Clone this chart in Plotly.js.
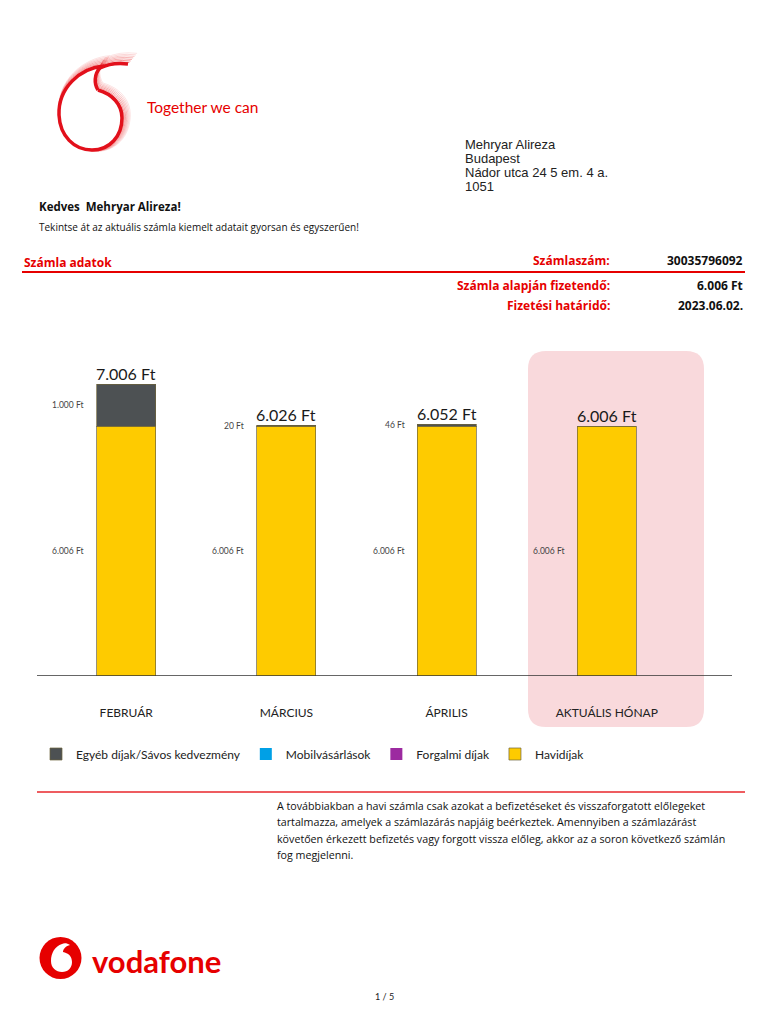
<!DOCTYPE html>
<html>
<head>
<meta charset="utf-8">
<script src="https://cdn.plot.ly/plotly-3.0.1.min.js"></script>
<style>
html,body{margin:0;padding:0;background:#fff;}
#page{width:768px;height:1024px;}
</style>
</head>
<body>
<div id="page"></div>
<script>
// ---- DATA ----
var months = ['FEBRUÁR', 'MÁRCIUS', 'ÁPRILIS', 'AKTUÁLIS HÓNAP'];
var havidijak = [6006, 6006, 6006, 6006];
var forgalmiDijak = [0, 0, 0, 0];
var mobilvasarlasok = [0, 0, 0, 0];
var egyebDijak = [1000, 20, 46, 0];
var seriesNames = ['Havidíjak', 'Forgalmi díjak', 'Mobilvásárlások', 'Egyéb díjak/Sávos kedvezmény'];
var seriesColors = ['#fecb00', '#9c2aa0', '#00a0e6', '#4d5153'];

var customerLines = ['Mehryar Alireza', 'Budapest', 'Nádor utca 24 5 em. 4 a.', '1051'];
var invoiceLabels = ['Számlaszám:', 'Számla alapján fizetendő:', 'Fizetési határidő:'];
var invoiceValues = ['30035796092', '6.006 Ft', '2023.06.02.'];
var noteLines = [
  'A továbbiakban a havi számla csak azokat a befizetéseket és visszaforgatott előlegeket',
  'tartalmazza, amelyek a számlazárás napjáig beérkeztek. Amennyiben a számlazárást',
  'követően érkezett befizetés vagy forgott vissza előleg, akkor az a soron következő számlán',
  'fog megjelenni.'
];

// ---- helpers ----
var W = 768, H = 1024;
function px(x){ return x / W; }
function py(y){ return 1 - y / H; }
function ft(n){ return String(n).replace(/\B(?=(\d{3})+(?!\d))/g, '.') + ' Ft'; }
function mapPts(cmds, fn){
  return cmds.replace(/(-?\d+(\.\d+)?),(-?\d+(\.\d+)?)/g, function(m, a, _b, c){
    var p = fn(parseFloat(a), parseFloat(c));
    return p[0].toFixed(5) + ',' + p[1].toFixed(5);
  });
}
function pathPx(cmds){ return mapPts(cmds, function(x, y){ return [px(x), py(y)]; }); }
var FONT = 'Lato, "Open Sans", sans-serif';
var FONT2 = '"Open Sans", Lato, sans-serif';
var RED = '#e60000';

// ---- traces ----
var stacks = [havidijak, forgalmiDijak, mobilvasarlasok, egyebDijak];
var traces = stacks.map(function(vals, i){
  var hasLine = (i === 0 || i === 3);
  return {
    type: 'bar', x: months, y: vals, name: seriesNames[i],
    marker: {color: seriesColors[i], line: {color: hasLine ? 'rgba(110,100,60,0.7)' : 'rgba(0,0,0,0)', width: hasLine ? 1 : 0}},
    width: 0.368, hoverinfo: 'skip'
  };
});

// ---- annotations ----
var ann = [];
months.forEach(function(m, i){
  var tot = havidijak[i] + forgalmiDijak[i] + mobilvasarlasok[i] + egyebDijak[i];
  ann.push({x: m, y: tot, xref: 'x', yref: 'y', text: ft(tot), showarrow: false,
    yanchor: 'bottom', yshift: -1, font: {family: FONT, size: 16, color: '#1a1a1a'}});
});
months.forEach(function(m, i){
  var base = 0;
  stacks.forEach(function(vals){
    var v = vals[i];
    if (v > 0) {
      ann.push({x: m, y: base + v / 2, xref: 'x', yref: 'y', text: ft(v), showarrow: false,
        xanchor: 'right', xshift: -40, font: {family: FONT, size: 8.5, color: '#444'}});
    }
    base += v;
  });
});
customerLines.forEach(function(t, i){
  ann.push({x: px(463), y: py(144 + i * 14), xref: 'paper', yref: 'paper', text: t, showarrow: false,
    xanchor: 'left', yanchor: 'middle', font: {family: '"Liberation Sans", Arial, sans-serif', size: 13, color: '#222'}});
});
ann.push({x: px(37), y: py(206), xref: 'paper', yref: 'paper', text: '<b>Kedves  Mehryar Alireza!</b>', showarrow: false,
  xanchor: 'left', yanchor: 'middle', font: {family: FONT2, size: 11.5, color: '#111'}});
ann.push({x: px(37), y: py(227), xref: 'paper', yref: 'paper', text: 'Tekintse át az aktuális számla kiemelt adatait gyorsan és egyszerűen!', showarrow: false,
  xanchor: 'left', yanchor: 'middle', font: {family: FONT2, size: 10, color: '#111'}});
ann.push({x: px(22), y: py(262), xref: 'paper', yref: 'paper', text: '<b>Számla adatok</b>', showarrow: false,
  xanchor: 'left', yanchor: 'middle', font: {family: FONT2, size: 12, color: RED}});
var invY = [260, 285, 305];
invoiceLabels.forEach(function(t, i){
  ann.push({x: px(612), y: py(invY[i]), xref: 'paper', yref: 'paper', text: '<b>' + t + '</b>', showarrow: false,
    xanchor: 'right', yanchor: 'middle', font: {family: FONT2, size: 12, color: RED}});
  ann.push({x: px(745), y: py(invY[i]), xref: 'paper', yref: 'paper', text: '<b>' + invoiceValues[i] + '</b>', showarrow: false,
    xanchor: 'right', yanchor: 'middle', font: {family: FONT2, size: 12, color: '#111'}});
});
noteLines.forEach(function(t, i){
  ann.push({x: px(275), y: py(806 + i * 16.3), xref: 'paper', yref: 'paper', text: t, showarrow: false,
    xanchor: 'left', yanchor: 'middle', font: {family: FONT2, size: 10.7, color: '#111'}});
});
ann.push({x: px(145), y: py(107), xref: 'paper', yref: 'paper', text: 'Together we can', showarrow: false,
  xanchor: 'left', yanchor: 'middle', font: {family: FONT, size: 15.5, color: RED}});
ann.push({x: px(90), y: py(961), xref: 'paper', yref: 'paper', text: '<b>vodafone</b>', showarrow: false,
  xanchor: 'left', yanchor: 'middle', font: {family: FONT, size: 31, color: RED}});
ann.push({x: px(384), y: py(996), xref: 'paper', yref: 'paper', text: '1 / 5', showarrow: false,
  xanchor: 'center', yanchor: 'middle', font: {family: FONT, size: 9, color: '#222'}});

// ---- shapes ----
var shapes = [];
var bx0 = 528, bx1 = 704, by0 = 351, by1 = 727, r = 18;
shapes.push({type: 'path', xref: 'paper', yref: 'paper', layer: 'below', line: {width: 0}, fillcolor: '#f9d9dc',
  path: pathPx('M ' + (bx0 + r) + ',' + by0 + ' L ' + (bx1 - r) + ',' + by0 + ' Q ' + bx1 + ',' + by0 + ' ' + bx1 + ',' + (by0 + r) +
    ' L ' + bx1 + ',' + (by1 - r) + ' Q ' + bx1 + ',' + by1 + ' ' + (bx1 - r) + ',' + by1 +
    ' L ' + (bx0 + r) + ',' + by1 + ' Q ' + bx0 + ',' + by1 + ' ' + bx0 + ',' + (by1 - r) +
    ' L ' + bx0 + ',' + (by0 + r) + ' Q ' + bx0 + ',' + by0 + ' ' + (bx0 + r) + ',' + by0 + ' Z')});
shapes.push({type: 'line', xref: 'paper', yref: 'y', x0: px(37), x1: px(732), y0: 0, y1: 0, line: {color: '#333', width: 1.3}});
shapes.push({type: 'line', xref: 'paper', yref: 'paper', x0: px(22), x1: px(745), y0: py(272), y1: py(272), line: {color: RED, width: 2}});
shapes.push({type: 'line', xref: 'paper', yref: 'paper', x0: px(37), x1: px(745), y0: py(792), y1: py(792), line: {color: '#e8262b', width: 1.5}});

// top speech-mark logo with fading echo lines
var speech = 'M 98,90 C 94,84 94,74 100,68 Q 112,62 128,64 M 104,66 C 80,68 58,88 59,115 C 60,136 74,150 92,150 C 110,150 122,136 122,118 C 122,104 112,94 98,90';
for (var k = 7; k >= 1; k--) {
  var s = 1 + k * 0.02;
  var pth = mapPts(speech, function(x, y){ return [108 + (x - 108) * s + k * 0.9, 140 + (y - 140) * s]; });
  shapes.push({type: 'path', xref: 'paper', yref: 'paper', path: pathPx(pth),
    line: {color: 'rgba(230,20,20,' + (0.62 - k * 0.07).toFixed(2) + ')', width: 0.9}});
}
shapes.push({type: 'path', xref: 'paper', yref: 'paper', path: pathPx(speech), line: {color: '#e2101b', width: 3.5}});

// bottom vodafone logo
shapes.push({type: 'circle', xref: 'paper', yref: 'paper', x0: px(39.5), x1: px(81.5), y0: py(979), y1: py(937), fillcolor: RED, line: {width: 0}});
shapes.push({type: 'path', xref: 'paper', yref: 'paper', fillcolor: '#fff', line: {width: 0},
  path: pathPx('M 62,944 C 55,946 51,953 51,961 C 51,968 56,972 62,972 C 68,972 72,968 72,962 C 72,956 68,953 63,952 C 63,949 66,946 70,945 C 67,943 64,943 62,944 Z')});

var layout = {
  width: W, height: H,
  margin: {l: 0, r: 0, t: 0, b: 0},
  paper_bgcolor: '#fff', plot_bgcolor: 'rgba(0,0,0,0)',
  barmode: 'stack',
  showlegend: true,
  legend: {orientation: 'h', x: px(36), y: py(754), xanchor: 'left', yanchor: 'middle',
    traceorder: 'reversed', font: {family: FONT, size: 12, color: '#222'}, itemwidth: 30, bgcolor: 'rgba(0,0,0,0)'},
  xaxis: {domain: [px(46.1), px(686.9)], type: 'category', range: [-0.5, 3.5], fixedrange: true,
    showline: false, showgrid: false, zeroline: false, ticks: '',
    ticklabelstandoff: 28, tickfont: {family: FONT, size: 12, color: '#222'}},
  yaxis: {domain: [py(676), py(350)], range: [0, 326 / 250 * 6006], visible: false, fixedrange: true},
  annotations: ann,
  shapes: shapes
};

Plotly.newPlot('page', traces, layout, {staticPlot: true, displayModeBar: false});
</script>
</body>
</html>
